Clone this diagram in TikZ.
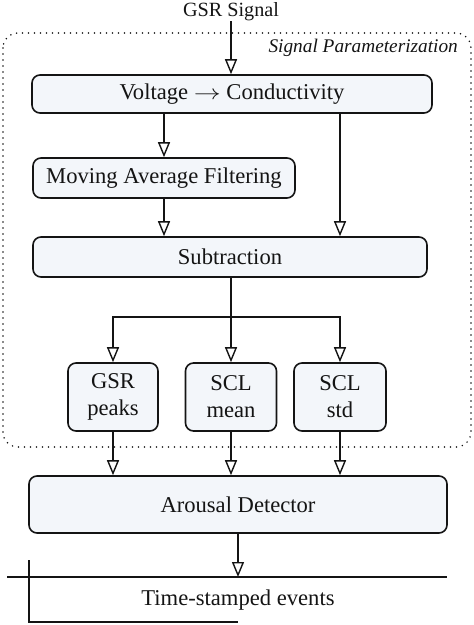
\documentclass[tikz,border=0pt]{standalone}
\usepackage{fontspec}
\setmainfont{Liberation Serif}
\usetikzlibrary{arrows.meta}
\definecolor{boxfill}{HTML}{F3F6FA}
\definecolor{ink}{HTML}{141414}
\tikzset{
  blk/.style={draw=ink, line width=1.6pt, rounded corners=8pt, fill=boxfill,
    text=ink, font=\fontsize{22.6}{27}\selectfont, align=center, inner sep=0pt},
  arr/.style={draw=ink, line width=1.6pt, -{Triangle[open, length=15pt, width=12pt, line width=1.4pt]}},
  ln/.style={draw=ink, line width=1.6pt},
  lbl/.style={text=ink, inner sep=0pt}
}
\begin{document}
\begin{tikzpicture}[x=1pt, y=-1pt]
\useasboundingbox (0,0) rectangle (474,625);
% dotted frame
\draw[ink, line width=1.7pt, dash pattern=on 0pt off 6pt, line cap=round, rounded corners=15pt]
  (3,33) rectangle (471,447);
\node[lbl, anchor=east, font=\fontsize{19.3}{22}\selectfont\itshape] (param) at (458,48) {Signal Parameterization};
% nodes
\node[lbl, font=\fontsize{20.2}{24}\selectfont] (in) at (231,12) {GSR Signal};
\node[blk, minimum width=400pt, minimum height=38pt] (volt) at (232,94)
  {Voltage \scalebox{1.3}[1]{$\rightarrow$} Conductivity};
\node[blk, minimum width=262pt, minimum height=40pt] (maf) at (164,178) {Moving Average Filtering};
\node[blk, minimum width=394pt, minimum height=40pt] (sub) at (230,257) {Subtraction};
\node[blk, minimum width=90pt, minimum height=68pt] (gsr) at (113,397) {GSR\\peaks};
\node[blk, minimum width=91pt, minimum height=68pt] (mean) at (231,397) {SCL\\mean};
\node[blk, minimum width=92pt, minimum height=68pt] (std) at (340,397) {SCL\\std};
\node[blk, minimum width=418pt, minimum height=57pt] (arousal) at (238,504.5) {Arousal Detector};
\node[lbl, font=\fontsize{22.6}{27}\selectfont] (events) at (238,600) {Time-stamped events};
% data store lines
\coordinate (storeL) at (7,577);
\coordinate (storeR) at (447,577);
\coordinate (storeTop) at (238,577);
\draw[ln] (storeL) -- (storeR);
\draw[ln] (29,560) -- (29,622) -- (238,622);
% connectors
\draw[arr] (in.south) -- (in.south |- volt.north);
\draw[arr] (maf.north |- volt.south) -- (maf.north);
\draw[arr] (std.north |- volt.south) -- (std.north |- sub.north);
\draw[arr] (maf.south) -- (maf.south |- sub.north);
\coordinate (split) at (231,317);
\draw[ln] (sub.south -| split) -- (split);
\draw[arr] (split) -- (mean.north);
\draw[arr] (split) -| (gsr.north);
\draw[arr] (split) -| (std.north);
\draw[arr] (gsr.south) -- (gsr.south |- arousal.north);
\draw[arr] (mean.south) -- (mean.south |- arousal.north);
\draw[arr] (std.south) -- (std.south |- arousal.north);
\draw[arr] (arousal.south) -- (storeTop);
\end{tikzpicture}
\end{document}
